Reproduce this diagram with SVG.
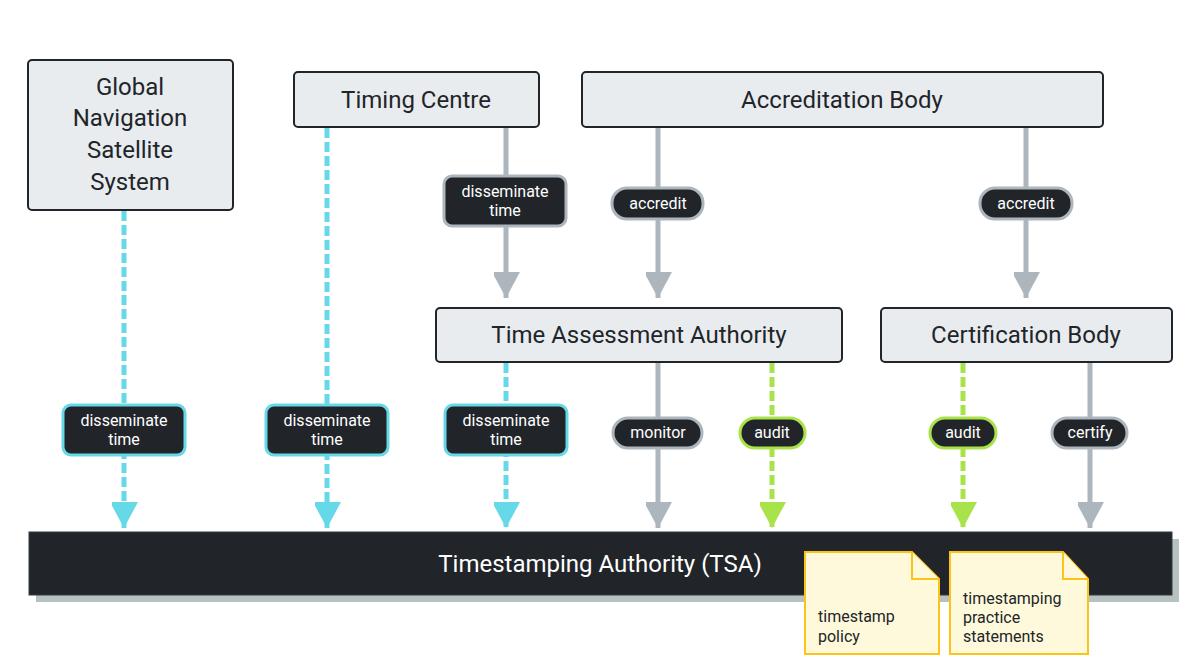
<svg xmlns="http://www.w3.org/2000/svg" width="1200" height="666" viewBox="0 0 1200 666">
<style>
.box{fill:#e9ecef;stroke:#212529;stroke-width:2}
.bt{font-family:Roboto,"Liberation Sans",sans-serif;font-size:24px;fill:#212529;text-anchor:middle}
.lb{fill:#212529;stroke-width:3}
.lt{font-family:Roboto,"Liberation Sans",sans-serif;font-size:16px;fill:#fff;text-anchor:middle}
.g{stroke:#adb5bd;stroke-width:5;fill:none}
.c{stroke:#66d9e8;stroke-width:5;fill:none;stroke-dasharray:10,4}
.gr{stroke:#a9e34b;stroke-width:5;fill:none;stroke-dasharray:10,4}
.note{fill:#fff9db;stroke:#fcc419;stroke-width:2}
.nt{font-family:Roboto,"Liberation Sans",sans-serif;font-size:16px;fill:#212529}
</style>
<defs>
<marker id="ag" markerUnits="userSpaceOnUse" markerWidth="28" markerHeight="26" refX="26" refY="14" orient="auto"><path d="M0,0 L26,14 L0,28Z" fill="#adb5bd"/></marker>
<marker id="ac" markerUnits="userSpaceOnUse" markerWidth="28" markerHeight="26" refX="26" refY="14" orient="auto"><path d="M0,0 L26,14 L0,28Z" fill="#66d9e8"/></marker>
<marker id="agr" markerUnits="userSpaceOnUse" markerWidth="28" markerHeight="26" refX="26" refY="14" orient="auto"><path d="M0,0 L26,14 L0,28Z" fill="#a9e34b"/></marker>
</defs>
<rect width="1200" height="666" fill="#fff"/>
<g id="connectors">
<line class="c" x1="124" y1="211" x2="124" y2="528" marker-end="url(#ac)"/>
<line class="c" x1="327" y1="128" x2="327" y2="528" marker-end="url(#ac)"/>
<line class="c" x1="506" y1="363" x2="506" y2="528" marker-end="url(#ac)"/>
<line class="g" x1="506" y1="128" x2="506" y2="298" marker-end="url(#ag)"/>
<line class="g" x1="658" y1="128" x2="658" y2="298" marker-end="url(#ag)"/>
<line class="g" x1="1026" y1="128" x2="1026" y2="298" marker-end="url(#ag)"/>
<line class="g" x1="658" y1="363" x2="658" y2="528" marker-end="url(#ag)"/>
<line class="gr" x1="772" y1="363" x2="772" y2="528" marker-end="url(#agr)"/>
<line class="gr" x1="963" y1="363" x2="963" y2="528" marker-end="url(#agr)"/>
<line class="g" x1="1090" y1="363" x2="1090" y2="528" marker-end="url(#ag)"/>
<rect class="lb" stroke="#adb5bd" x="444" y="176" width="122" height="50" rx="8"/>
<text class="lt" x="505" y="197">disseminate</text><text class="lt" x="505" y="216">time</text>
<rect class="lb" stroke="#adb5bd" x="612" y="188" width="91" height="31" rx="15"/><text class="lt" x="658" y="209">accredit</text>
<rect class="lb" stroke="#adb5bd" x="980" y="188" width="92" height="31" rx="15"/><text class="lt" x="1026" y="209">accredit</text>
<rect class="lb" stroke="#66d9e8" x="63" y="405" width="122" height="50" rx="8"/>
<text class="lt" x="124" y="426">disseminate</text><text class="lt" x="124" y="445">time</text>
<rect class="lb" stroke="#66d9e8" x="266" y="405" width="122" height="50" rx="8"/>
<text class="lt" x="327" y="426">disseminate</text><text class="lt" x="327" y="445">time</text>
<rect class="lb" stroke="#66d9e8" x="445" y="405" width="122" height="50" rx="8"/>
<text class="lt" x="506" y="426">disseminate</text><text class="lt" x="506" y="445">time</text>
<rect class="lb" stroke="#adb5bd" x="613" y="418" width="89" height="30" rx="15"/><text class="lt" x="658" y="438">monitor</text>
<rect class="lb" stroke="#a9e34b" x="740" y="418" width="65" height="30" rx="15"/><text class="lt" x="772" y="438">audit</text>
<rect class="lb" stroke="#a9e34b" x="930" y="418" width="66" height="30" rx="15"/><text class="lt" x="963" y="438">audit</text>
<rect class="lb" stroke="#adb5bd" x="1052" y="418" width="75" height="30" rx="15"/><text class="lt" x="1090" y="438">certify</text>
</g>
<g id="gnss"><rect class="box" x="28" y="60" width="205" height="150" rx="4"/>
<text class="bt" x="130" y="95">Global</text><text class="bt" x="130" y="126">Navigation</text><text class="bt" x="130" y="158">Satellite</text><text class="bt" x="130" y="190">System</text></g>
<g id="timing"><rect class="box" x="294" y="72" width="245" height="55" rx="4"/><text class="bt" x="416" y="108">Timing Centre</text></g>
<g id="accreditation"><rect class="box" x="582" y="72" width="521" height="55" rx="4"/><text class="bt" x="842" y="108">Accreditation Body</text></g>
<g id="taa"><rect class="box" x="436" y="308" width="406" height="54" rx="4"/><text class="bt" x="639" y="343">Time Assessment Authority</text></g>
<g id="cert"><rect class="box" x="881" y="308" width="291" height="54" rx="4"/><text class="bt" x="1026" y="343">Certification Body</text></g>
<g id="tsa"><rect x="36" y="539" width="1143" height="63" fill="#b6c2bf"/><rect x="29" y="532" width="1143" height="63" fill="#212529" stroke="#343a40"/>
<text class="bt" x="600" y="572" style="fill:#fff">Timestamping Authority (TSA)</text></g>
<g id="policy"><path class="note" d="M805,552 H912 L939,579 V654 H805Z"/><path class="note" d="M912,552 V579 H939" fill="none"/>
<text class="nt" x="818" y="622">timestamp</text><text class="nt" x="818" y="642">policy</text></g>
<g id="practice"><path class="note" d="M950,552 H1063 L1088,579 V654 H950Z"/><path class="note" d="M1063,552 V579 H1088" fill="none"/>
<text class="nt" x="963" y="604">timestamping</text><text class="nt" x="963" y="623">practice</text><text class="nt" x="963" y="642">statements</text></g>
</svg>
